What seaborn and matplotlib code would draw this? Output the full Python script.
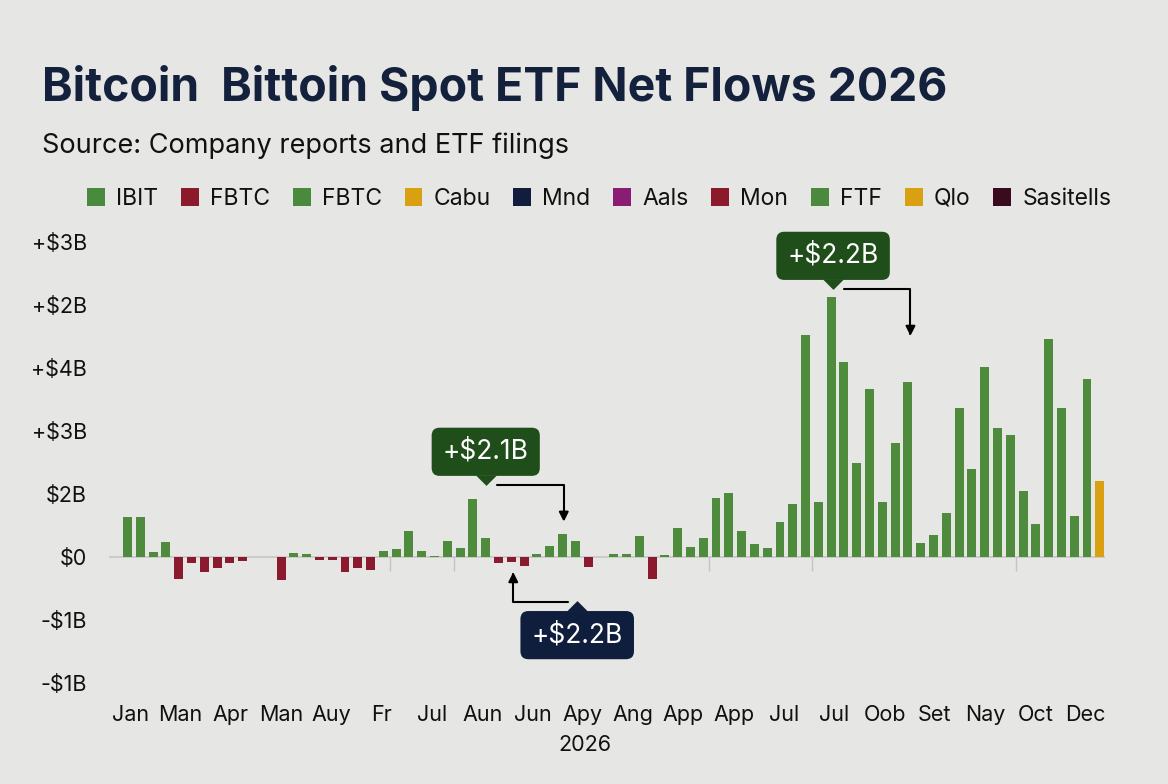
import numpy as np
import pandas as pd
import matplotlib
matplotlib.use("Agg")
import matplotlib.pyplot as plt
from matplotlib.patches import Patch
import seaborn as sns

# weekly net flows, in y-axis tick units
flows = [0.635, 0.635, 0.08, 0.24, -0.35, -0.10, -0.24, -0.17, -0.09, -0.06,
         0.0, 0.0, -0.36, 0.065, 0.04, -0.04, -0.04, -0.24, -0.17, -0.21,
         0.09, 0.12, 0.41, 0.10, 0.02, 0.26, 0.14, 0.92, 0.30, -0.10,
         -0.08, -0.14, 0.04, 0.17, 0.37, 0.26, -0.16, 0.0, 0.05, 0.04,
         0.33, -0.35, 0.03, 0.46, 0.16, 0.30, 0.94, 1.02, 0.41, 0.20,
         0.15, 0.56, 0.84, 3.52, 0.88, 4.13, 3.10, 1.49, 2.67, 0.87,
         1.81, 2.77, 0.22, 0.35, 0.70, 2.37, 1.40, 3.01, 2.04, 1.93,
         1.05, 0.52, 3.46, 2.37, 0.65, 2.82, 1.20]
fund = ['IBIT' if v >= 0 else 'FBTC' for v in flows]
fund[-1] = 'Qlo'

month_labels = ['Jan', 'Man', 'Apr', 'Man', 'Auy', 'Fr', 'Jul', 'Aun', 'Jun', 'Apy',
                'Ang', 'App', 'App', 'Jul', 'Jul', 'Oob', 'Set', 'Nay', 'Oct', 'Dec']
ytick_vals = [-2, -1, 0, 1, 2, 3, 4, 5]
ytick_labels = ['-$1B', '-$1B', '$0', '$2B', '+$3B', '+$4B', '+$2B', '+$3B']

legend_names = ['IBIT', 'FBTC', 'FBTC', 'Cabu', 'Mnd', 'Aals', 'Mon', 'FTF', 'Qlo', 'Sasitells']
legend_colors = ['#4a8a3c', '#8b1a2b', '#4a8a3c', '#d9a011', '#111d3d',
                 '#8a1c73', '#8b1a2b', '#4a8a3c', '#d9a011', '#3a0a1e']

notes = [  # text, box colour, box centre, pointer, arrow start, arrow end
    ('+$2.1B', '#1f4e1a', (28.0, 1.67), 'down', (28.9, 1.14), (34.1, 0.56)),
    ('+$2.2B', '#0f1e3c', (35.15, -1.24), 'up', (34.4, -0.71), (30.15, -0.24)),
    ('+$2.2B', '#1f4e1a', (55.15, 4.78), 'down', (56.0, 4.25), (61.2, 3.51)),
]

bg = '#e6e6e4'
sns.set_theme(style="white")
plt.rcParams['font.family'] = ['Inter', 'DejaVu Sans']

df = pd.DataFrame({'pos': range(len(flows)), 'flow': flows, 'fund': fund})
palette = {'IBIT': '#4e8b3c', 'FBTC': '#8c1a2e', 'Qlo': '#d9a011'}

fig = plt.figure(figsize=(11.68, 7.84), dpi=100, facecolor=bg)
ax = fig.add_axes([0.0933, 0.1047, 0.8527, 0.6188])
ax.set_facecolor(bg)

sns.barplot(data=df, x='pos', y='flow', hue='fund', palette=palette, dodge=False,
            width=0.7, saturation=1, legend=False, edgecolor='none', ax=ax)
ax.axhline(0, color='#c9c9c9', lw=1.3, zorder=0)
ax.vlines([20.52, 25.55, 45.47, 53.49, 69.44], 0, -0.22, color='#c4c4c4', lw=1, zorder=0)

ax.set_xlim(-1.45, 76.4)
ax.set_ylim(-2.3, 5.4)
ax.set_yticks(ytick_vals)
ax.set_yticklabels(ytick_labels)
ax.set_xticks(np.linspace(0.2, 74.9, len(month_labels)))
ax.set_xticklabels(month_labels)
ax.tick_params(axis='y', length=0, pad=16, labelsize=15.5, labelcolor='#111111')
ax.tick_params(axis='x', length=0, pad=2.5, labelsize=15.5, labelcolor='#111111')
ax.set_xlabel('')
ax.set_ylabel('')
for s in ax.spines.values():
    s.set_visible(False)

# callouts
for txt, col, (bx, by), ptr, a0, a1 in notes:
    ax.text(bx, by, txt, ha='center', va='center', color='white', fontsize=19,
            bbox=dict(boxstyle='round,pad=0.42,rounding_size=0.3', fc=col, ec='none'), zorder=5)
    if ptr == 'down':
        ax.plot(bx, by - 0.37, marker=[(-1, 0), (1, 0), (0, -1)], ms=15, color=col,
                mec='none', zorder=5)
    else:
        ax.plot(bx, by + 0.38, marker=[(-1, 0), (1, 0), (0, 1)], ms=15, color=col,
                mec='none', zorder=5)
    ax.annotate('', xy=a1, xytext=a0,
                arrowprops=dict(arrowstyle='-|>', color='black', lw=1.5, shrinkA=0, shrinkB=0,
                                mutation_scale=14,
                                connectionstyle='angle,angleA=0,angleB=90,rad=0'))

fig.text(42 / 1168, 1 - 88 / 784, 'Bitcoin  Bittoin Spot ETF Net Flows 2026', fontsize=33.4,
         fontweight='bold', color='#14213d', va='center', ha='left')
fig.text(42 / 1168, 1 - 146 / 784, 'Source: Company reports and ETF filings', fontsize=19.5,
         color='#111111', va='center', ha='left')
fig.text(585 / 1168, 1 - 745 / 784, '2026', fontsize=15.5, color='#111111', ha='center', va='center')

handles = [Patch(facecolor=c, edgecolor='none', label=n) for n, c in zip(legend_names, legend_colors)]
fig.legend(handles=handles, loc='center', bbox_to_anchor=(599 / 1168, 1 - 199 / 784), ncol=10,
           frameon=False, fontsize=16.5, handlelength=0.78, handleheight=0.8,
           handletextpad=0.48, columnspacing=1.0, labelcolor='#111111')

fig.savefig('out.png', dpi=100, facecolor=bg)
